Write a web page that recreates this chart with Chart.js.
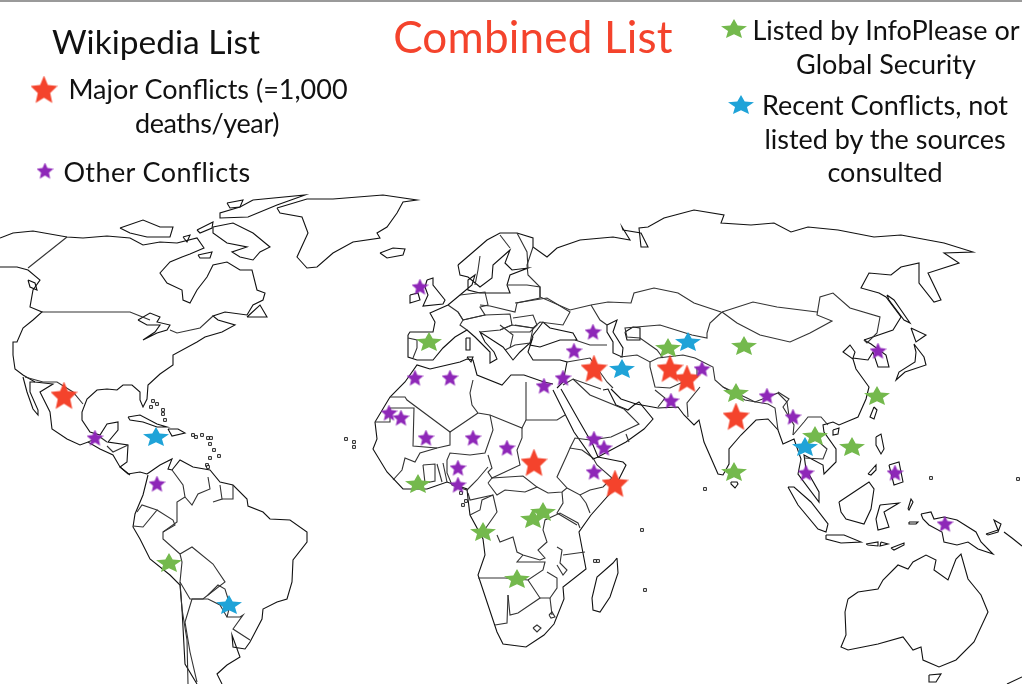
<!DOCTYPE html>
<html>
<head>
<meta charset="utf-8">
<title>Combined List</title>
<script src="https://cdn.jsdelivr.net/npm/chart.js@4/dist/chart.umd.min.js"></script>
<style>
  html, body { margin: 0; padding: 0; background: #fff; }
  #page { position: relative; width: 1022px; height: 684px; overflow: hidden; border-top: 2px solid #9a9a9a; box-sizing: border-box; }
  #worldMap { position: absolute; left: 0; top: -2px; }
  .t { position: absolute; transform: translateX(-50%); white-space: nowrap; font-family: Lato, sans-serif; color: #111; font-size: 27px; line-height: 34px; }
</style>
</head>
<body>
<div id="page">
  <canvas id="worldMap" width="1022" height="684"></canvas>
  <div class="t" style="left:156px;top:18px;font-size:33.5px;line-height:42px">Wikipedia List</div>
  <div class="t" style="left:208px;top:70px">Major Conflicts (=1,000</div>
  <div class="t" style="left:207px;top:104px;letter-spacing:-.4px">deaths/year)</div>
  <div class="t" style="left:157px;top:153px;letter-spacing:.4px">Other Conflicts</div>
  <div class="t" style="left:533px;top:8px;font-size:44px;line-height:52px;letter-spacing:.2px;color:#f4432c">Combined List</div>
  <div class="t" style="left:886px;top:11px">Listed by InfoPlease or</div>
  <div class="t" style="left:886px;top:45px">Global Security</div>
  <div class="t" style="left:885px;top:86px">Recent Conflicts, not</div>
  <div class="t" style="left:885px;top:120px">listed by the sources</div>
  <div class="t" style="left:885px;top:153px">consulted</div>
</div>
<script>
// conflict locations (map units: 0-1022 across, 0-684 down)
const majorConflicts = [[44,90],[64,396],[594,369],[670,369],[687,379],[736,417],[534,463],[615,484]];
const otherConflicts = [[45,171],[420,287],[593,332],[574,351],[563,378],[544,386],[415,378],[450,378],[95,438],[157,484],
  [389,413],[401,418],[426,438],[473,438],[458,468],[458,485],[507,448],[594,439],[604,448],[594,472],[671,401],[702,369],
  [767,396],[793,417],[806,473],[895,473],[945,524],[878,351]];
const listedConflicts = [[734,29],[429,342],[668,348],[744,346],[736,393],[877,396],[815,436],[852,447],[734,472],[543,512],
  [533,519],[517,579],[418,484],[483,532],[169,563]];
const recentConflicts = [[741,105],[156,437],[229,605],[688,342],[622,369],[805,447]];

// map outlines, same units, x,y pairs
const northAmericaCoast = [0,238,13,233,33,231,67,237,83,238,107,236,130,238,143,245,160,242,177,243,197,238,204,248,190,254,182,257,170,262,160,273,167,283,182,290,183,300,190,303,197,290,207,277,213,265,227,262,240,270,252,270,257,290,265,293,263,300,253,305,247,315,225,312,213,316,218,320,235,325,222,332,205,337,197,342,173,355,173,365,160,374,148,385,147,399,143,407,140,400,140,392,132,385,123,385,117,390,107,389,97,390,87,399,82,412,82,420,90,432,100,435,107,424,118,422,118,430,108,442,128,445,127,462,120,467,128,474,140,472,147,474];
const westCoast = [0,267,17,267,28,270,40,280,33,290,30,307,42,312,33,320,23,328,17,342,13,342,13,355,15,369,23,375,35,382,53,384,40,392,50,412,52,429,67,439,80,445,88,442,100,449,113,455,120,467,130,475];
const bajaCoast = [23,377,27,392,33,409,38,415,38,410,30,392,30,382,35,382];
const southAmericaCoast = [147,474,160,465,172,459,168,469,172,470,180,460,193,467,210,470,220,482,233,485,247,499,248,506,263,512,270,519,290,520,307,532,307,542,293,560,292,582,287,599,277,602,263,609,262,619,250,642,245,649,233,647,232,635,240,657,227,665,217,674,222,684];
const southAmericaWest = [197,684,185,664,182,609,180,585,170,575,150,559,140,539,133,527,135,514,143,495,148,475];
const greenland = [277,208,307,199,333,199,383,195,417,200,403,202,397,213,387,227,377,233,380,238,353,242,333,253,317,267,307,268,297,257,308,233,302,217,280,213,277,208];
const ellesmere = [253,200,305,195,277,205,248,217,220,218,220,213,240,207,253,200];
const baffin = [213,227,233,223,253,233,270,247,260,252,253,260,240,257,232,252,247,247,227,243,213,233,213,227];
const victoria = [120,228,143,220,160,227,173,227,170,237,147,237,130,233,120,228];
const devon = [227,203,243,200,240,207,230,208,227,203];
const smallIsle1 = [183,237,190,235,187,242,183,237];
const smallIsle2 = [197,230,213,222,212,228,200,233,197,230];
const smallIsle3 = [198,255,212,252,210,258,200,258,198,255];
const iceland = [380,253,393,248,405,249,403,255,387,258,380,253];
const newfoundland = [247,317,260,305,267,317,253,317,247,317];
const greatLakes = [138,320,150,313,160,317,157,322,170,325,167,330,157,333,143,340,155,332,160,325,147,325,138,320];
const cuba = [128,417,140,415,157,424,167,427,157,427,143,422,130,420,128,417];
const hispaniola = [168,429,178,429,185,433,172,436,168,429];
const vancouver = [28,280,35,283,37,290,30,287,28,280];
const eurasiaSouth = [408,335,408,357,417,360,433,360,443,348,455,337,467,330,475,337,490,352,490,363,497,359,494,352,485,342,480,332,503,347,513,360,520,352,530,343,532,340,528,352,533,360,560,360,567,362,563,382,557,388];
const arabiaCoast = [561,389,578,419,593,445,598,457,611,450,626,442,644,429,653,419,639,402,634,405,628,410,616,405,608,389,603,390];
const asiaSouthCoast = [611,389,621,399,636,404,658,408,678,407,684,415,694,425,699,420,704,442,718,474,723,475,729,464,729,449,741,435,756,420,768,419,778,430,783,444,794,439,801,459,798,474,819,502,819,492,806,469,804,455,823,465,824,474,836,462,836,449,824,432,823,425,833,422,839,425,858,417,866,399,869,387,856,369,853,359,843,352,850,345,855,352,853,358,868,360,873,352,878,367,889,367,886,355,871,344,864,340];
const russiaArctic = [458,265,472,253,487,240,500,233,517,233,533,238,533,247,547,257,557,248,580,240,613,237,630,240,622,227,623,230,641,233,648,247,641,247,639,228,648,227,664,218,694,210,724,215,721,223,751,225,774,223,791,232,808,227,838,230,874,237,901,235,944,243,973,252,944,253,959,263,928,273,941,300,934,302,919,283,919,263,901,267,891,275,869,273,861,288,879,293,886,297,901,317,893,330,864,340];
const balticCoast = [458,265,460,275,468,277,480,287,492,278,493,265,510,250,505,263,512,270,528,268,510,275,507,285,510,293,487,293,480,293,468,290,468,280,475,275,472,285,460,295,448,305,430,313,435,322,433,332,410,332,408,335];
const britain = [427,280,433,278,433,285,445,300,443,304,423,306,428,295,425,287,427,280];
const ireland = [410,295,418,293,420,300,410,303,410,295];
const caspian = [607,325,617,320,613,332,623,348,622,357,613,353,613,342,607,332,607,325];
const blackSea = [537,330,543,322,550,328,573,333,577,340,560,340,540,347,530,345,533,335,537,330];
const aralSea = [625,332,633,327,640,328,640,340,627,340,625,332];
const sicilyEtc = [467,357,473,357,471,362,467,357];
const sardinia = [466,338,470,338,470,350,466,350,466,338];
const africaCoast = [430,369,417,365,405,382,390,397,375,422,377,439,373,449,387,472,403,489,427,489,447,482,467,489,468,499,470,515,483,539,485,555,478,575,488,605,497,632,503,644,526,647,544,635,554,624,564,599,563,587,586,569,579,532,591,515,614,489,626,465,623,462,598,457,593,459,574,432,553,390];
const africaMed = [430,369,460,362,467,359,473,360,477,375,502,385,511,375,524,375,544,382,553,384];
const madagascar = [617,558,618,573,610,597,600,612,593,610,592,598,597,577,613,563,617,558];
const japan = [914,344,924,357,926,365,905,372,896,380,899,372,915,362,916,352,914,344];
const sakhalin = [887,295,894,300,910,323,904,320,889,300,887,295];
const hokkaido = [911,328,926,335,916,342,911,328];
const taiwan = [874,407,877,410,874,419,870,417,874,407];
const hainan = [833,430,839,428,838,434,833,435,833,430];
const sriLanka = [731,482,737,482,738,484,735,488,731,484,731,482];
const sumatra = [788,487,794,487,811,502,828,524,826,532,818,529,798,505,788,487];
const java = [826,535,844,535,861,542,841,543,826,539,826,535];
const borneo = [839,502,854,492,869,482,874,489,871,509,864,524,846,519,841,512,839,502];
const sulawesi = [880,505,899,503,884,512,889,527,878,530,876,519,880,505];
const luzon = [876,437,881,434,884,449,881,454,876,445,876,437];
const mindanao = [889,465,899,462,903,482,894,485,889,465];
const palawan = [868,474,876,465,876,470,871,475,868,474];
const newGuinea = [921,514,931,512,934,519,944,517,957,520,976,532,981,542,993,554,978,549,968,542,957,545,944,542,942,532,929,525,923,519,921,514];
const newBritain = [986,534,998,530,994,520,1001,524,998,532,988,535,986,534];
const solomons = [1004,532,1012,538,1022,546];
const timor = [866,544,878,542,878,546,868,545,866,544];
const flores = [881,542,888,544,880,546,881,542];
const banda = [891,548,904,543,904,545,894,550,891,548];
const seram = [909,522,918,522,916,524,909,524,909,522];
const halmahera = [908,509,911,499,913,502,909,510,908,509];
const australia = [848,599,845,612,846,635,841,647,848,650,878,644,903,637,913,650,921,647,923,660,939,667,956,660,974,642,988,612,981,595,968,579,961,554,956,559,948,580,934,570,936,560,926,555,913,562,908,569,898,565,883,580,878,589,858,592,848,599];
const tasmania = [929,675,941,674,936,682,929,682,929,675];
const newZealand = [1007,684,1022,677];

// borders
const alaskaBorder = [67,237,28,268];
const canadaBorder = [42,312,130,312,140,316,150,320];
const stLawrence = [170,330,177,333,200,328,213,316];
const mexicoBorder = [25,377,43,382,57,382,73,392,83,404];
const centralAm1 = [88,442,100,437,107,442];
const centralAm2 = [107,446,113,452,128,445];
const southAm1 = [172,470,183,485,185,497,177,502,177,522,163,532,163,539,180,554,192,547,213,564,225,582,208,595,203,599,190,599,180,582,182,562,180,554];
const southAm2 = [185,497,192,505,198,494,210,489,208,477];
const southAm3 = [213,502,222,499,220,485];
const southAm4 = [222,499,233,499,233,485];
const southAm5 = [137,512,142,505,157,510,143,527,133,526];
const southAm6 = [157,510,173,520,175,525,163,532];
const southAm7 = [208,595,218,585,225,589,230,605,227,617,240,617,243,615,233,629,250,640];
const southAm8 = [180,582,182,609,187,640,188,684];
const southAm9 = [192,599,185,622,190,652,197,682];
const southAm10 = [192,599,208,599,220,605,227,617];
const africaB1 = [526,382,526,420,557,420,565,415];
const africaB2 = [526,420,522,428,490,415,478,413,472,405,470,393,473,380];
const africaB3 = [478,413,450,432,407,400,405,397,390,397];
const africaB4 = [450,432,450,445,437,448,413,446,414,408,390,408,390,422,375,422];
const africaB5 = [490,415,493,430,485,453,470,455,450,453,447,460,447,473,452,485,467,490,477,480,488,467];
const africaB6 = [488,455,492,468,488,472,492,478,520,465,517,450,522,438,522,428];
const africaB7 = [437,448,420,453,415,462,405,458,402,470,393,480];
const africaB8 = [423,465,435,464,435,481,425,483,423,465];
const africaB9 = [437,464,442,482];
const africaB10 = [443,463,447,482];
const africaB11 = [468,493,470,500,493,495];
const africaB12 = [488,483,497,495,505,490,525,492,537,487,523,476,492,478,488,483];
const africaB13 = [537,487,548,493,562,492,567,488,557,477,567,455,570,448,582,450,593,458,597,465,612,478,603,487,590,490,580,495,567,488];
const africaB14 = [570,448,575,438,590,440];
const africaB15 = [562,492,563,503,557,513,577,525];
const africaB16 = [586,503,590,513];
const africaB17 = [580,495,586,503];
const africaB18 = [497,535,500,542,513,537,517,552,523,555,540,560,545,558,538,550,547,542,543,530,545,520,560,513,578,523,580,528];
const africaB19 = [478,578,505,578,528,580,543,570,545,562,517,562,523,555];
const africaB20 = [508,595,507,623,495,625];
const africaB21 = [508,595,510,615,518,613,540,598,528,580];
const africaB22 = [540,598,550,598,557,588,557,578,547,572];
const africaB23 = [550,598,552,615];
const africaB24 = [557,547,562,550,560,563,567,570,563,575,557,565];
const africaB25 = [563,555,585,552];
const lesotho = [533,628,537,625,541,628,537,632,533,628];
const swaziland = [549,615,552,612,555,617,551,618,549,615];
const congoB = [470,515,480,510,482,500,493,495,497,512,490,522,483,532];
const levant = [563,385,573,379,601,389];
const saudi = [573,379,590,395,624,409,639,424,611,437,591,440];
const oman = [626,434,629,442];
const turkeyS = [567,362,590,358,607,382,613,388];
const turkeyE = [575,340,590,345,607,345];
const kazakhNorth = [591,305,608,302,631,303,634,293,654,288,678,293,694,303,721,312];
const russiaWest = [533,247,527,265,528,275,540,287,540,297,570,310,591,305];
const kazakhWest = [591,305,600,320,607,325];
const mongoliaSouth = [722,312,737,323,760,335,790,342,810,333,832,321,817,315,820,297,833,293,850,308,880,317,877,333,867,343,864,340];
const mongoliaNorth = [722,312,753,302,777,307,817,312];
const kazakhSouth = [722,312,710,323,707,333,707,338,692,335,660,325,625,328,627,337,640,338,657,350,663,358];
const iranNorth = [620,357,637,355,650,362,658,358,683,355,695,358,713,367,715,380,723,387,747,398,755,402,778,393,787,402,790,423];
const afghan = [650,362,650,367,655,387,670,388,683,382,697,377,697,368];
const iranPak = [655,390,665,398,658,407];
const pakIndia = [700,387,687,403,688,417];
const nepal = [723,387,745,400,756,402];
const bangla = [756,402,768,404,775,408,778,430];
const burma = [778,392,789,399,783,407,794,425,793,435];
const siam = [793,435,804,422,808,417,821,417,828,425];
const indochina = [811,435,827,449,823,459,804,458];
const europe1 = [480,256,478,270,475,285];
const europe2 = [500,235,510,248];
const finland = [517,233,527,252,528,268];
const baltics = [507,285,527,285,540,287,540,298,517,303,515,312,490,306,480,305];
const germany = [460,295,485,292,488,305,480,307,485,315,463,320,458,312];
const franceEast = [448,305,458,312,463,320,460,325,467,330];
const ukraine = [515,303,547,298,570,312,563,325,540,322,533,328,515,325];
const alps = [463,320,485,315,510,314,512,325,500,330,480,332];
const balkans = [500,330,512,325,533,328,530,343,515,345,505,350];
const balkans2 = [500,325,513,335,510,348];
const romania = [513,318,533,315,537,325,530,332,510,332];
const iberia = [408,338,417,340,417,348,413,358];
const coastlines = [northAmericaCoast, westCoast, bajaCoast, southAmericaCoast, southAmericaWest, greenland, ellesmere, baffin, victoria,
  devon, smallIsle1, smallIsle2, smallIsle3, iceland, newfoundland, greatLakes, cuba, hispaniola, vancouver, eurasiaSouth, arabiaCoast,
  asiaSouthCoast, russiaArctic, balticCoast, britain, ireland, caspian, blackSea, aralSea, sicilyEtc, sardinia, africaCoast, africaMed,
  madagascar, japan, sakhalin, hokkaido, taiwan, hainan, sriLanka, sumatra, java, borneo, sulawesi, luzon, mindanao, palawan, newGuinea,
  newBritain, solomons, timor, flores, banda, seram, halmahera, australia, tasmania, newZealand];
const borders = [alaskaBorder, canadaBorder, stLawrence, mexicoBorder, centralAm1, centralAm2, southAm1, southAm2, southAm3, southAm4, southAm5, southAm6,
  southAm7, southAm8, southAm9, southAm10, africaB1, africaB2, africaB3, africaB4, africaB5, africaB6, africaB7, africaB8, africaB9,
  africaB10, africaB11, africaB12, africaB13, africaB14, africaB15, africaB16, africaB17, africaB18, africaB19, africaB20, africaB21,
  africaB22, africaB23, africaB24, africaB25, lesotho, swaziland, congoB, levant, saudi, oman, turkeyS, turkeyE, kazakhNorth, russiaWest,
  kazakhWest, mongoliaSouth, mongoliaNorth, kazakhSouth, iranNorth, afghan, iranPak, pakIndia, nepal, bangla, burma, siam, indochina,
  europe1, europe2, finland, baltics, germany, franceEast, ukraine, alps, balkans, balkans2, romania, iberia];
// tiny islands drawn as little squares
const tinyIslands = [[153,401],[157,404],[151,407],[163,410],[163,414],[165,420],[193,435],[196,437],[202,435],[208,438],[211,438],[210,444],[214,450],[210,458],[207,465],[219,456],[208,467],[346,439],[354,442],[354,447],[461,493],[463,505],[466,501],[642,530],[595,561],[598,561],[645,590],[705,489],[931,478],[1018,479]];

function toPoints(flat) {
  const pts = [];
  for (let i = 0; i < flat.length; i += 2) pts.push({ x: flat[i], y: flat[i + 1] });
  return pts;
}

// five pointed star as a canvas, Chart.js has no filled one
function starImage(color, w, h) {
  const c = document.createElement('canvas');
  c.width = w; c.height = h;
  const g = c.getContext('2d');
  g.fillStyle = color;
  g.beginPath();
  for (let i = 0; i < 10; i++) {
    const r = i % 2 ? 0.46 : 1;
    const a = -Math.PI / 2 + i * Math.PI / 5;
    const px = w / 2 + Math.cos(a) * r * w / 2 / 0.951;
    const py = h * 0.525 + Math.sin(a) * r * h * 0.525;
    if (i === 0) g.moveTo(px, py); else g.lineTo(px, py);
  }
  g.closePath();
  g.fill();
  return c;
}

function lineSet(flat, color) {
  return { data: toPoints(flat), showLine: true, borderColor: color, borderWidth: 1.1, pointRadius: 0, tension: 0, fill: false, order: 10 };
}
// lower order is drawn on top
function starSet(points, img, order) {
  return { data: points.map(p => ({ x: p[0], y: p[1] })), pointStyle: img, pointRadius: 10, showLine: false, order: order };
}

const datasets = [];
borders.forEach(b => datasets.push(lineSet(b, '#333')));
coastlines.forEach(b => datasets.push(lineSet(b, '#111')));
datasets.push({ data: tinyIslands.map(p => ({ x: p[0], y: p[1] })), pointStyle: 'rect', pointRadius: 2, borderWidth: 0.9, borderColor: '#111', backgroundColor: '#fff', showLine: false, order: 9 });
datasets.push(starSet(listedConflicts, starImage('#74b94d', 26, 20), 4));
datasets.push(starSet(recentConflicts, starImage('#1fa3d8', 26, 20), 3));
datasets.push(starSet(majorConflicts, starImage('#f4432c', 27, 29), 2));
datasets.push(starSet(otherConflicts, starImage('#8e27b8', 17, 17), 1));

new Chart(document.getElementById('worldMap'), {
  type: 'scatter',
  data: { datasets: datasets },
  options: {
    responsive: false,
    animation: false,
    layout: { autoPadding: false, padding: 0 },
    plugins: { legend: { display: false }, tooltip: { enabled: false } },
    scales: {
      x: { type: 'linear', min: 0, max: 1022, display: false },
      y: { type: 'linear', min: 0, max: 684, reverse: true, display: false }
    }
  }
});
</script>
</body>
</html>
